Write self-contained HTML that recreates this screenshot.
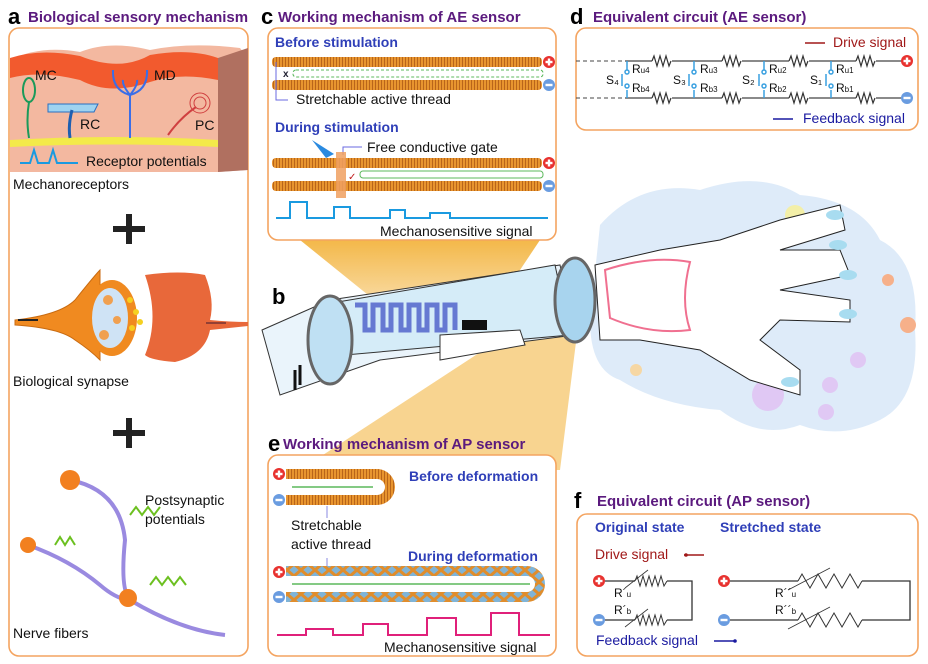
<!DOCTYPE html>
<html><head><meta charset="utf-8"><style>
html,body{margin:0;padding:0;background:#fff;}
svg{display:block;font-family:"Liberation Sans",Arial,sans-serif;}
.t{font-weight:bold;fill:#5b1a7e;font-size:15px}
.L{font-weight:bold;fill:#000;font-size:22px}
.bl{font-weight:bold;fill:#2f3fb8;font-size:14px}
.k{fill:#111;font-size:14px}
.box{fill:#fff;stroke:#f4a460;stroke-width:1.6}
</style></head><body>
<svg width="928" height="664" viewBox="0 0 928 664">
<defs>
<pattern id="th" width="3" height="10" patternUnits="userSpaceOnUse"><rect width="3" height="10" fill="#e8952f"/><rect width="1" height="10" fill="#b9651a"/></pattern>
<pattern id="tw" width="14" height="12" patternUnits="userSpaceOnUse"><rect width="14" height="12" fill="#7fb4d8"/><path d="M0 0L14 12M14 0L0 12" stroke="#e08d2c" stroke-width="3"/></pattern>
<linearGradient id="beam" x1="0" y1="0" x2="0" y2="1"><stop offset="0" stop-color="#f2b035" stop-opacity=".9"/><stop offset="1" stop-color="#f2b035" stop-opacity=".15"/></linearGradient>
<g id="plus"><circle r="6" fill="#e8322f"/><rect x="-3.5" y="-1.2" width="7" height="2.4" fill="#fff"/><rect x="-1.2" y="-3.5" width="2.4" height="7" fill="#fff"/></g>
<g id="minus"><circle r="6" fill="#6a9ce0"/><rect x="-3.5" y="-1.2" width="7" height="2.4" fill="#fff"/></g>
<path id="res" d="M0 0l2-5 3 10 3-10 3 10 3-10 3 10 2-5" fill="none" stroke="#333" stroke-width="1.2"/>
</defs>

<!-- beams -->
<path d="M300 240 L540 240 L470 345 L430 345Z" fill="url(#beam)"/>
<path d="M560 300 L580 310 L560 470 L300 470Z" fill="#f2b035" opacity=".55"/>

<!-- panel a -->
<text x="8" y="24" class="L">a</text><text x="28" y="22" class="t">Biological sensory mechanism</text>
<rect x="9" y="28" width="239" height="628" rx="10" class="box"/>
<path d="M10 60 Q40 45 80 52 Q110 40 150 50 Q190 42 240 48 L248 58 L248 170 L218 172 L10 172Z" fill="#f3b8a0"/>
<path d="M10 58 Q40 48 80 56 Q120 72 150 55 Q190 48 218 58 L218 80 Q180 72 150 82 Q110 96 80 80 Q40 70 10 78Z" fill="#f25a2e"/>
<path d="M218 58 L248 48 L248 170 L218 172Z" fill="#b07060"/>
<path d="M10 140 Q110 134 218 140 L218 147 Q110 142 10 147Z" fill="#f3ea4a"/>
<ellipse cx="29" cy="90" rx="6" ry="12" fill="none" stroke="#1a9a5a" stroke-width="2"/><path d="M29 102 Q26 120 29 138" stroke="#1a9a5a" stroke-width="2" fill="none"/>
<path d="M48 104 L98 104 L94 112 L48 112Z" fill="#9fd3f0" stroke="#2a6fc0"/><path d="M72 110 Q68 125 70 138" stroke="#1e5fb0" stroke-width="3" fill="none"/>
<path d="M130 138 L130 95 M130 95 Q112 90 113 70 M130 95 Q122 85 123 80 M130 95 Q138 85 137 80 M130 95 Q148 90 147 70" stroke="#3a6ee8" stroke-width="2" fill="none"/>
<circle cx="200" cy="103" r="10" fill="none" stroke="#d04040"/><circle cx="200" cy="103" r="6" fill="none" stroke="#d04040"/><path d="M168 135 Q180 118 196 107" stroke="#d04040" stroke-width="2" fill="none"/>
<text x="35" y="80" class="k">MC</text><text x="154" y="80" class="k">MD</text><text x="80" y="129" class="k">RC</text><text x="195" y="130" class="k">PC</text>
<path d="M20 163 L30 163 L34 150 L38 163 L49 163 L53 150 L57 163 L78 163" stroke="#1a9ae0" stroke-width="2" fill="none"/>
<text x="86" y="166" class="k">Receptor potentials</text>
<text x="13" y="189" class="k">Mechanoreceptors</text>
<path d="M113 229 h32 M129 214 v30" stroke="#222" stroke-width="6"/>
<path d="M15 320 Q60 315 75 300 Q95 275 100 270 L100 360 Q90 350 75 340 Q60 328 15 325Z" fill="#f08a20" stroke="#c86a10"/>
<ellipse cx="112" cy="318" rx="25" ry="38" fill="#f08a20"/>
<ellipse cx="110" cy="318" rx="18" ry="30" fill="#cfe3f5"/>
<circle cx="108" cy="300" r="5" fill="#f0a050"/><circle cx="104" cy="335" r="5" fill="#f0a050"/><circle cx="117" cy="320" r="4" fill="#f0a050"/>
<circle cx="130" cy="300" r="3" fill="#f5d020"/><circle cx="136" cy="312" r="3" fill="#f5d020"/><circle cx="132" cy="328" r="3" fill="#f5d020"/><circle cx="140" cy="322" r="3" fill="#f5d020"/>
<path d="M145 275 Q180 270 205 275 Q215 300 210 320 Q230 322 248 322 L248 326 L210 330 Q205 355 175 362 Q150 360 145 355 Q160 318 145 275Z" fill="#e8683a"/>
<path d="M18 320 h20" stroke="#222" stroke-width="2"/><path d="M206 323 h20" stroke="#733" stroke-width="1.5"/>
<text x="13" y="386" class="k">Biological synapse</text>
<path d="M113 433 h32 M129 418 v30" stroke="#222" stroke-width="6"/>
<path d="M70 480 Q120 490 125 540 Q120 590 130 600 Q180 630 225 635" stroke="#9a8ae0" stroke-width="4" fill="none"/>
<path d="M28 545 Q70 560 100 585 Q115 598 128 600" stroke="#9a8ae0" stroke-width="4" fill="none"/>
<circle cx="70" cy="480" r="10" fill="#f28020"/><circle cx="28" cy="545" r="8" fill="#f28020"/><circle cx="128" cy="598" r="9" fill="#f28020"/>
<path d="M130 515 l6-8 6 8 6-8 6 8 6-8" stroke="#6cc020" stroke-width="2" fill="none"/>
<path d="M55 545 l5-8 5 8 5-8 5 8" stroke="#6cc020" stroke-width="2" fill="none"/>
<path d="M150 585 l6-8 6 8 6-8 6 8 6-8 6 8" stroke="#6cc020" stroke-width="2" fill="none"/>
<text x="145" y="505" class="k">Postsynaptic</text><text x="145" y="524" class="k">potentials</text>
<text x="13" y="638" class="k">Nerve fibers</text>

<!-- panel c -->
<text x="261" y="24" class="L">c</text><text x="278" y="22" class="t">Working mechanism of AE sensor</text>
<rect x="268" y="28" width="288" height="212" rx="10" class="box"/>
<text x="275" y="47" class="bl">Before stimulation</text>
<rect x="272" y="57" width="270" height="10" rx="4" fill="url(#th)"/><rect x="272" y="80" width="270" height="10" rx="4" fill="url(#th)"/>
<use href="#plus" x="549" y="62"/><use href="#minus" x="549" y="85"/>
<rect x="293" y="70" width="250" height="7" rx="3" fill="none" stroke="#5cb85c" stroke-dasharray="3 2"/>
<text x="283" y="77" font-size="10" font-weight="bold" fill="#223">x</text>
<path d="M276 62 V100 H288" stroke="#6a6ae0" fill="none"/>
<text x="296" y="104" class="k">Stretchable active thread</text>
<text x="275" y="132" class="bl">During stimulation</text>
<text x="367" y="152" class="k">Free conductive gate</text><path d="M343 155 V147 H362" stroke="#6a6ae0" fill="none"/>
<rect x="272" y="158" width="270" height="10" rx="4" fill="url(#th)"/><rect x="272" y="181" width="270" height="10" rx="4" fill="url(#th)"/>
<use href="#plus" x="549" y="163"/><use href="#minus" x="549" y="186"/>
<rect x="336" y="152" width="10" height="46" fill="#f0a060" opacity=".85"/>
<path d="M312 140 l22 14 -8 4z" fill="#2a8ae0"/>
<rect x="360" y="171" width="183" height="7" rx="3" fill="none" stroke="#5cb85c"/>
<text x="348" y="180" font-size="10" fill="#c02020">✓</text>
<path d="M276 218 H290 V202 H307 V218 H334 V207 H350 V218 H390 V210 H405 V218 H430 V213 H450 V218 H548" stroke="#1a9ae0" stroke-width="2" fill="none"/>
<text x="380" y="236" class="k">Mechanosensitive signal</text>

<!-- panel d -->
<text x="570" y="24" class="L">d</text><text x="593" y="22" class="t">Equivalent circuit (AE sensor)</text>
<rect x="576" y="28" width="342" height="102" rx="10" class="box"/>
<text x="833" y="47" font-size="14" fill="#a01818">Drive signal</text><path d="M825 43 h-20" stroke="#a01818" stroke-width="1.5"/>
<text x="803" y="123" font-size="14" fill="#1a1aa0">Feedback signal</text><path d="M773 119 h20" stroke="#1a1aa0" stroke-width="1.5"/>
<path d="M576 61 H625 M576 98 H625" stroke="#444" stroke-dasharray="4 3"/>
<path d="M625 61 H902 M625 98 H902" stroke="#444" stroke-width="1.3"/>
<g fill="#fff"><rect x="652" y="55" width="20" height="12"/><rect x="722" y="55" width="20" height="12"/><rect x="789" y="55" width="20" height="12"/><rect x="856" y="55" width="20" height="12"/><rect x="652" y="92" width="20" height="12"/><rect x="722" y="92" width="20" height="12"/><rect x="789" y="92" width="20" height="12"/><rect x="856" y="92" width="20" height="12"/></g>
<use href="#res" x="652" y="61"/><use href="#res" x="722" y="61"/><use href="#res" x="789" y="61"/><use href="#res" x="856" y="61"/>
<use href="#res" x="652" y="98"/><use href="#res" x="722" y="98"/><use href="#res" x="789" y="98"/><use href="#res" x="856" y="98"/>
<use href="#plus" x="907" y="61"/><use href="#minus" x="907" y="98"/>
<g stroke="#3aa0e0" stroke-width="1.5" fill="#fff">
<path d="M627 61V70 M627 90V98 M694 61V70 M694 90V98 M764 61V70 M764 90V98 M831 61V70 M831 90V98"/>
<circle cx="627" cy="72" r="2"/><circle cx="627" cy="86" r="2"/><circle cx="694" cy="72" r="2"/><circle cx="694" cy="86" r="2"/><circle cx="764" cy="72" r="2"/><circle cx="764" cy="86" r="2"/><circle cx="831" cy="72" r="2"/><circle cx="831" cy="86" r="2"/>
<path d="M622 74V86 M689 74V86 M759 74V86 M826 74V86"/></g>
<g font-size="12" fill="#111"><text x="606" y="84">S₄</text><text x="673" y="84">S₃</text><text x="742" y="84">S₂</text><text x="810" y="84">S₁</text>
<text x="632" y="73">R<tspan font-size="8">u4</tspan></text><text x="632" y="92">R<tspan font-size="8">b4</tspan></text>
<text x="700" y="73">R<tspan font-size="8">u3</tspan></text><text x="700" y="92">R<tspan font-size="8">b3</tspan></text>
<text x="769" y="73">R<tspan font-size="8">u2</tspan></text><text x="769" y="92">R<tspan font-size="8">b2</tspan></text>
<text x="836" y="73">R<tspan font-size="8">u1</tspan></text><text x="836" y="92">R<tspan font-size="8">b1</tspan></text></g>

<!-- panel b -->
<text x="272" y="304" class="L">b</text>
<path d="M600 225 Q640 180 700 190 Q760 170 800 195 Q860 200 880 240 Q920 260 915 330 Q920 400 880 420 Q840 440 800 425 Q760 440 720 410 Q660 405 620 380 Q590 370 590 320Z" fill="#d8e8f8" opacity=".85"/>
<circle cx="768" cy="395" r="16" fill="#e0c8f4"/><circle cx="830" cy="385" r="8" fill="#e0c8f4"/><circle cx="858" cy="360" r="8" fill="#e0c8f4"/><circle cx="826" cy="412" r="8" fill="#e0c8f4"/>
<circle cx="908" cy="325" r="8" fill="#f6b08a"/><circle cx="888" cy="280" r="6" fill="#f6b08a"/><circle cx="795" cy="215" r="10" fill="#f3efa8"/><circle cx="636" cy="370" r="6" fill="#f6d7a4"/>
<path d="M262 330 L330 300 L560 265 L575 335 L380 360 L280 395Z" fill="#eaf4fb" stroke="#333"/>
<path d="M320 305 L555 265 L570 335 L345 355Z" fill="#d5ecf8" stroke="#333"/>
<ellipse cx="575" cy="300" rx="20" ry="42" fill="#a8d4ee" stroke="#666" stroke-width="3"/>
<ellipse cx="330" cy="340" rx="22" ry="44" fill="#bfe0f3" stroke="#666" stroke-width="3"/>
<path d="M355 305 h10 v25 h8 v-25 h10 v25 h8 v-25 h10 v25 h8 v-25 h10 v25 h8 v-25 h10 v25 h8 v-25 h10 v25" stroke="#4a5cc8" stroke-width="5" fill="none" opacity=".8"/>
<path d="M440 335 L520 330 L525 345 L440 360Z" fill="#fff" stroke="#333"/><path d="M462 320 h25 v10 h-25z" fill="#111"/>
<path d="M295 370 v20 M300 365 v20" stroke="#111" stroke-width="3"/>
<path d="M595 265 L660 250 L720 240 L780 220 L840 205 L845 230 L780 250 L840 250 L850 275 L780 290 L850 300 L850 322 L780 320 L760 340 L800 370 L800 395 L750 380 L700 350 L640 340 L600 340Z" fill="#fff" stroke="#222"/>
<path d="M605 270 Q650 255 690 262 Q680 300 690 330 Q650 335 610 318Z" fill="none" stroke="#f07090" stroke-width="2"/>
<ellipse cx="835" cy="215" rx="9" ry="5" fill="#a8dcf0"/><ellipse cx="838" cy="245" rx="9" ry="5" fill="#a8dcf0"/><ellipse cx="848" cy="275" rx="9" ry="5" fill="#a8dcf0"/><ellipse cx="848" cy="314" rx="9" ry="5" fill="#a8dcf0"/><ellipse cx="790" cy="382" rx="9" ry="5" fill="#a8dcf0"/>

<!-- panel e -->
<text x="268" y="451" class="L">e</text><text x="283" y="449" class="t">Working mechanism of AP sensor</text>
<rect x="268" y="455" width="288" height="201" rx="10" class="box"/>
<use href="#plus" x="279" y="474"/><use href="#minus" x="279" y="500"/>
<path d="M286 469 H377 A18 18 0 0 1 377 505 H286 V495 H377 A8 8 0 0 0 377 479 H286Z" fill="url(#th)"/>
<path d="M292 487 H373" stroke="#5cb85c" stroke-width="1.5"/>
<text x="409" y="481" class="bl">Before deformation</text>
<text x="291" y="530" class="k">Stretchable</text><text x="291" y="549" class="k">active thread</text>
<path d="M327 506 v12 M327 570 v-12" stroke="#8a8ae0"/>
<text x="408" y="561" class="bl">During deformation</text>
<use href="#plus" x="279" y="572"/><use href="#minus" x="279" y="597"/>
<path d="M286 566 H527 A18 18 0 0 1 527 602 H286 V592 H527 A8 8 0 0 0 527 576 H286Z" fill="url(#tw)"/>
<path d="M292 584 H530" stroke="#5cb85c" stroke-width="1.5"/>
<path d="M277 635 H306 V629 H333 V635 H363 V624 H388 V635 H427 V618 H456 V635 H491 V613 H519 V635 H550" stroke="#e0207a" stroke-width="2" fill="none"/>
<text x="384" y="652" class="k">Mechanosensitive signal</text>

<!-- panel f -->
<text x="574" y="508" class="L">f</text><text x="597" y="506" class="t">Equivalent circuit (AP sensor)</text>
<rect x="577" y="514" width="341" height="142" rx="10" class="box"/>
<text x="595" y="532" class="bl">Original state</text><text x="720" y="532" class="bl">Stretched state</text>
<text x="595" y="559" font-size="14" fill="#a01818">Drive signal</text><path d="M684 555 h20" stroke="#a01818" stroke-width="1.5"/><circle cx="686" cy="555" r="1.8" fill="#a01818"/>
<text x="596" y="645" font-size="14" fill="#1a1aa0">Feedback signal</text><path d="M714 641 h22" stroke="#1a1aa0" stroke-width="1.5"/><circle cx="735" cy="641" r="1.8" fill="#1a1aa0"/>
<use href="#plus" x="599" y="581"/><use href="#minus" x="599" y="620"/><use href="#plus" x="724" y="581"/><use href="#minus" x="724" y="620"/>
<path d="M605 581 H635 M667 581 H692 V620 H667 M635 620 H605" stroke="#333" stroke-width="1.3" fill="none"/>
<path d="M635 581 l2-5 3 10 3-10 3 10 3-10 3 10 3-10 3 10 3-10 3 10 3-5 M635 620 l2-5 3 10 3-10 3 10 3-10 3 10 3-10 3 10 3-10 3 10 3-5" stroke="#333" fill="none"/>
<path d="M730 581 H798 M862 581 H910 V620 H862 M798 620 H730" stroke="#333" stroke-width="1.3" fill="none"/>
<path d="M798 581 l4-7 8 14 8-14 8 14 8-14 8 14 8-14 8 14 4-7 M798 620 l4-7 8 14 8-14 8 14 8-14 8 14 8-14 8 14 4-7" stroke="#333" fill="none"/>
<path d="M625 588 L648 570 M788 590 L830 568 M625 627 L648 609 M788 629 L830 607" stroke="#333" stroke-width="0.8"/>
<g font-size="12" fill="#111"><text x="614" y="597">R´<tspan font-size="8">u</tspan></text><text x="614" y="614">R´<tspan font-size="8">b</tspan></text><text x="775" y="597">R´´<tspan font-size="8">u</tspan></text><text x="775" y="614">R´´<tspan font-size="8">b</tspan></text></g>
</svg>
</body></html>
